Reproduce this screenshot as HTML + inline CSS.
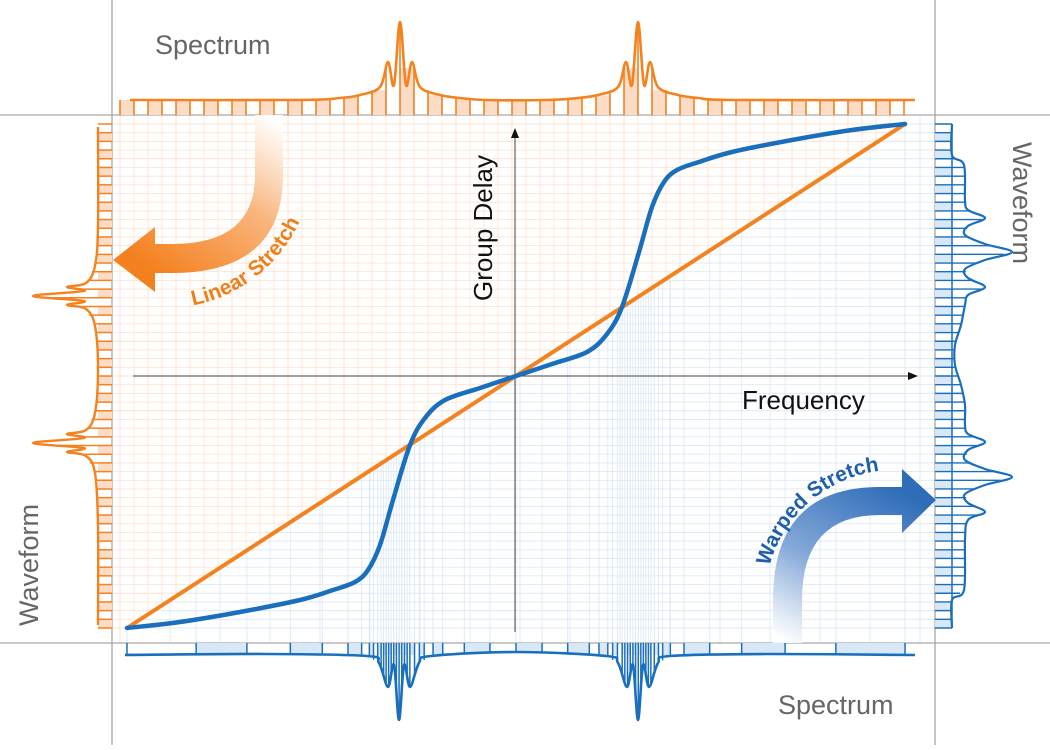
<!DOCTYPE html>
<html><head><meta charset="utf-8">
<style>
html,body{margin:0;padding:0;background:#fff;}
svg{display:block;}
text{font-family:"Liberation Sans",sans-serif;}
</style></head>
<body>
<svg id="chart" width="1050" height="750" viewBox="0 0 1050 750" xmlns="http://www.w3.org/2000/svg">
<defs>
<linearGradient id="gOrange" gradientUnits="userSpaceOnUse" x1="270" y1="118" x2="160" y2="275">
<stop offset="0" stop-color="#ffffff" stop-opacity="0.9"/>
<stop offset="0.45" stop-color="#f9b57c"/>
<stop offset="1" stop-color="#f4811f"/>
</linearGradient>
<linearGradient id="gBlue" gradientUnits="userSpaceOnUse" x1="788" y1="643" x2="880" y2="480">
<stop offset="0" stop-color="#ffffff" stop-opacity="0.9"/>
<stop offset="0.45" stop-color="#85a9d8"/>
<stop offset="1" stop-color="#2f6db8"/>
</linearGradient>
<clipPath id="clipOrange"><polygon id="polyOrange" points="0,0"/></clipPath>
<clipPath id="clipBlue"><polygon id="polyBlue" points="0,0"/></clipPath>
<path id="arcLinear" d="M 165,308 A 148,148 0 0 0 313,160"/>
<path id="arcWarped" d="M 765,600 A 130,130 0 0 1 895,470"/>
</defs>
<g id="gridLayer"></g>
<g id="frameLayer">
<line x1="112" y1="0" x2="112" y2="745" stroke="#a6a6a6" stroke-width="1.3"/>
<line x1="935" y1="0" x2="935" y2="745" stroke="#a6a6a6" stroke-width="1.3"/>
<line x1="0" y1="115" x2="1050" y2="115" stroke="#a6a6a6" stroke-width="1.3"/>
<line x1="0" y1="643" x2="1050" y2="643" stroke="#a6a6a6" stroke-width="1.3"/>
</g>
<g id="panelLayer"></g>
<g id="axisLayer">
<line x1="133" y1="376" x2="910" y2="376" stroke="#444" stroke-width="1"/>
<polygon points="918,376 908,372 908,380" fill="#111"/>
<line x1="515" y1="632" x2="515" y2="137" stroke="#444" stroke-width="1"/>
<polygon points="515,128 511,138 519,138" fill="#111"/>
</g>
<g id="curveLayer"></g>
<g id="arrowLayer">
<path d="M283,115 L283,175 Q283,273 172,273 L155,273 L155,292 L113,260 L155,227 L155,244 L172,244 Q255,244 255,175 L255,115 Z" fill="url(#gOrange)"/>
<path d="M773,643 L773,600 Q773,487 880,487 L902,487 L902,469 L936,500 L902,533 L902,515 L880,515 Q802,515 802,600 L802,643 Z" fill="url(#gBlue)"/>
<text font-size="21" font-weight="bold" fill="#f07f1a"><textPath href="#arcLinear" startOffset="28">Linear Stretch</textPath></text>
<text font-size="21" font-weight="bold" fill="#1f5fa8"><textPath href="#arcWarped" startOffset="34">Warped Stretch</textPath></text>
</g>
<g id="labelLayer">
<text x="155" y="54" font-size="27" fill="#666">Spectrum</text>
<text x="778" y="714" font-size="27" fill="#666">Spectrum</text>
<text transform="translate(38,565) rotate(-90)" text-anchor="middle" font-size="27" fill="#666">Waveform</text>
<text transform="translate(1013,203) rotate(90)" text-anchor="middle" font-size="27" fill="#666">Waveform</text>
<text transform="translate(492,228) rotate(-90)" text-anchor="middle" font-size="26" fill="#111">Group Delay</text>
<text x="742" y="409" font-size="26" fill="#111">Frequency</text>
</g>
</svg>
<script>
// Main chart: group delay vs frequency (units: freq/delay relative to origin)
const curveFreq = [-389,-336,-276,-216,-183,-161,-148,-136,-123,-106,-91,-71,-36,0,36,71,91,106,123,136,148,161,183,216,276,336,389];
const warpedDelay = [-252,-246,-236,-224,-214,-206,-194,-169,-124,-69,-42,-24,-12,0,12,24,42,69,124,169,194,206,214,224,236,246,252];
const linearFreq = [-389,389];
const linearDelay = [-252,252];
// Top spectrum (orange)
const topFreq = [-386,-216,-176,-156,-136,-128,-122,-116,-110,-104,-96,-76,-56,-30,30,62,82,102,110,116,122,128,134,142,162,182,217,399];
const topMag = [15,15,17,20,28,53,30,93,30,53,28,20,17,15,15,17,20,28,53,30,93,30,53,28,20,17,15,15];
// Bottom spectrum (blue)
const bottomFreq = [-391,-250,-149,-137,-128,-122,-117,-112,-106,-97,-85,0,90,102,111,117,122,127,133,142,154,250,399];
const bottomMag = [12,11,13,20,44,22,77,22,44,20,13,9,13,20,44,22,77,22,44,20,13,11,12];
// Left waveform (orange)
const leftTime = [249,150,110,93,89,85,80,75,71,67,50,7,-37,-54,-58,-62,-67,-72,-76,-80,-97,-150,-249];
const leftMag = [14,14,17,26,45,28,79,28,45,26,17,14,17,26,45,28,79,28,45,26,17,14,14];
// Right waveform (blue)
const rightTime = [252,221,211,176,166,158,150,141,132,124,116,107,98,89,81,71,51,31,11,-9,-29,-49,-58,-66,-74,-84,-93,-101,-109,-118,-127,-136,-144,-164,-214,-224,-252];
const rightMag = [17,17,29,30,33,50,33,30,50,77,50,30,33,50,33,30,26,20,20,26,30,30,33,50,33,30,50,77,50,30,33,50,33,30,29,17,17];
const gridLevels = 58;

const NS = "http://www.w3.org/2000/svg";
const X0 = 516, Y0 = 376;
function sx(f){ return X0 + f; }
function sy(t){ return Y0 - t; }
function mk(tag, attrs, parent){
  const el = document.createElementNS(NS, tag);
  for (const k in attrs) el.setAttribute(k, attrs[k]);
  parent.appendChild(el);
  return el;
}
function smooth(pts){
  let d = "M" + pts[0][0].toFixed(2) + "," + pts[0][1].toFixed(2);
  for (let i = 0; i < pts.length - 1; i++){
    const p0 = pts[i-1] || pts[i], p1 = pts[i], p2 = pts[i+1], p3 = pts[i+2] || pts[i+1];
    const c1x = p1[0] + (p2[0]-p0[0])/6, c1y = p1[1] + (p2[1]-p0[1])/6;
    const c2x = p2[0] - (p3[0]-p1[0])/6, c2y = p2[1] - (p3[1]-p1[1])/6;
    d += "C" + c1x.toFixed(2)+","+c1y.toFixed(2)+" "+c2x.toFixed(2)+","+c2y.toFixed(2)+" "+p2[0].toFixed(2)+","+p2[1].toFixed(2);
  }
  return d;
}
function interp(xs, ys, x){
  const asc = xs[xs.length-1] > xs[0];
  for (let i = 0; i < xs.length - 1; i++){
    const a = xs[i], b = xs[i+1];
    if ((asc && x >= a && x <= b) || (!asc && x <= a && x >= b)){
      const r = (x - a) / (b - a || 1);
      return ys[i] + r * (ys[i+1] - ys[i]);
    }
  }
  return asc ? (x < xs[0] ? ys[0] : ys[ys.length-1]) : (x > xs[0] ? ys[0] : ys[ys.length-1]);
}

const orange = "#f4821f", blue = "#1a6fbd";
const lightO = "#fbdcc6", lightB = "#d9e8f6";
const gridL = document.getElementById("gridLayer");
const panelL = document.getElementById("panelLayer");
const curveL = document.getElementById("curveLayer");

const lx1 = sx(linearFreq[0]), ly1 = sy(linearDelay[0]), lx2 = sx(linearFreq[1]), ly2 = sy(linearDelay[1]);
const slope = (ly2 - ly1) / (lx2 - lx1);
const yAt = x => ly1 + slope * (x - lx1);
const xAt = y => lx1 + (y - ly1) / slope;
document.getElementById("polyOrange").setAttribute("points", `112,115 ${xAt(115)},115 112,${yAt(112)}`);
document.getElementById("polyBlue").setAttribute("points", `${xAt(115)},115 935,115 935,643 112,643 112,${yAt(112)}`);

const levels = [];
const lo = linearDelay[0], hi = linearDelay[1];
for (let k = 0; k <= gridLevels; k++) levels.push(lo + (hi - lo) * k / gridLevels);
const warpX = levels.map(t => sx(interp(warpedDelay, curveFreq, t)));

// orange grid
const gO = mk("g", {"clip-path": "url(#clipOrange)", stroke: "#fde4d2", "stroke-width": "0.9"}, gridL);


for (let x = 120; x <= 935; x += 14){
  const ln = mk("line", {x1: x, y1: 115, x2: x, y2: 643}, gO);
  
  
}
levels.forEach(t => {
  const ln = mk("line", {x1: 112, y1: sy(t), x2: 935, y2: sy(t)}, gO);
  
  
});
// blue grid
const gB = mk("g", {"clip-path": "url(#clipBlue)", stroke: "#dde9f6", "stroke-width": "0.9"}, gridL);


warpX.forEach(x => {
  const ln = mk("line", {x1: x, y1: 115, x2: x, y2: 643}, gB);
  
  
});
for (let x = 120; x <= 935; x += 50){
  const ln = mk("line", {x1: x, y1: 115, x2: x, y2: 643}, gB);
  
  
}
levels.forEach(t => {
  const ln = mk("line", {x1: 112, y1: sy(t), x2: 935, y2: sy(t)}, gB);
  
  
});

// top spectrum
const topBars = [];
for (let x = 120; x <= 916; x += 14) topBars.push(x);
topBars.forEach((x, i) => {
  const m = interp(topFreq, topMag, x - X0);
  if (i % 2 === 0 && i < topBars.length - 1){
    const m2 = Math.min(interp(topFreq, topMag, x - X0), interp(topFreq, topMag, x + 14 - X0));
    const r = mk("rect", {x: x, y: 115 - m2, width: 14, height: m2, fill: lightO}, panelL);
    
    
  }
  const ln = mk("line", {x1: x, y1: 115, x2: x, y2: 115 - m, stroke: orange, "stroke-width": 1.6}, panelL);
  
  
});
const topPath = mk("path", {d: smooth(topFreq.map((f, i) => [sx(f), 115 - topMag[i]])), fill: "none", stroke: orange, "stroke-width": 2.6}, panelL);



// bottom spectrum
const bx = warpX.filter(x => x >= 125 && x <= 916);
bx.forEach((x, i) => {
  const m = interp(bottomFreq, bottomMag, x - X0);
  if (i % 2 === 1 && i < bx.length - 1){
    const mid = (x + bx[i+1]) / 2;
    const m2 = Math.min(interp(bottomFreq, bottomMag, mid - X0), 12);
    const r = mk("rect", {x: x, y: 643, width: bx[i+1] - x, height: m2, fill: lightB}, panelL);
    
    
  }
  const ln = mk("line", {x1: x, y1: 643, x2: x, y2: 643 + m, stroke: blue, "stroke-width": 1.5}, panelL);
  
  
});
const botPath = mk("path", {d: smooth(bottomFreq.map((f, i) => [sx(f), 643 + bottomMag[i]])), fill: "none", stroke: blue, "stroke-width": 2.6}, panelL);



// left waveform
levels.forEach((t, i) => {
  const m = interp(leftTime, leftMag, t);
  const y = sy(t);
  if (i % 2 === 0 && i < levels.length - 1){
    const h = sy(t) - sy(levels[i+1]);
    const r = mk("rect", {x: 98, y: y - h, width: 14, height: h, fill: lightO}, panelL);
    
    
  }
  const ln = mk("line", {x1: 112, y1: y, x2: 112 - m, y2: y, stroke: orange, "stroke-width": 1.5}, panelL);
  
  
});
const leftPath = mk("path", {d: smooth(leftTime.map((t, i) => [112 - leftMag[i], sy(t)])), fill: "none", stroke: orange, "stroke-width": 2.4}, panelL);



// right waveform
levels.forEach((t, i) => {
  const m = interp(rightTime, rightMag, t);
  const y = sy(t);
  if (i % 2 === 0 && i < levels.length - 1){
    const h = sy(t) - sy(levels[i+1]);
    const r = mk("rect", {x: 935, y: y - h, width: 17, height: h, fill: lightB}, panelL);
    
    
  }
  const ln = mk("line", {x1: 935, y1: y, x2: 935 + m, y2: y, stroke: blue, "stroke-width": 1.4}, panelL);
  
  
});
const rbase = mk("line", {x1: 952, y1: sy(hi), x2: 952, y2: sy(lo), stroke: blue, "stroke-width": 1.5}, panelL);


const rightPath = mk("path", {d: smooth(rightTime.map((t, i) => [935 + rightMag[i], sy(t)])), fill: "none", stroke: blue, "stroke-width": 2.2}, panelL);



// main curves
const linPath = mk("path", {d: "M" + sx(linearFreq[0]) + "," + sy(linearDelay[0]) + " L" + sx(linearFreq[1]) + "," + sy(linearDelay[1]), fill: "none", stroke: orange, "stroke-width": 4}, curveL);


const warpPath = mk("path", {d: smooth(curveFreq.map((f, i) => [sx(f), sy(warpedDelay[i])])), fill: "none", stroke: blue, "stroke-width": 4.5, "stroke-linecap": "round"}, curveL);


</script>
</body></html>
